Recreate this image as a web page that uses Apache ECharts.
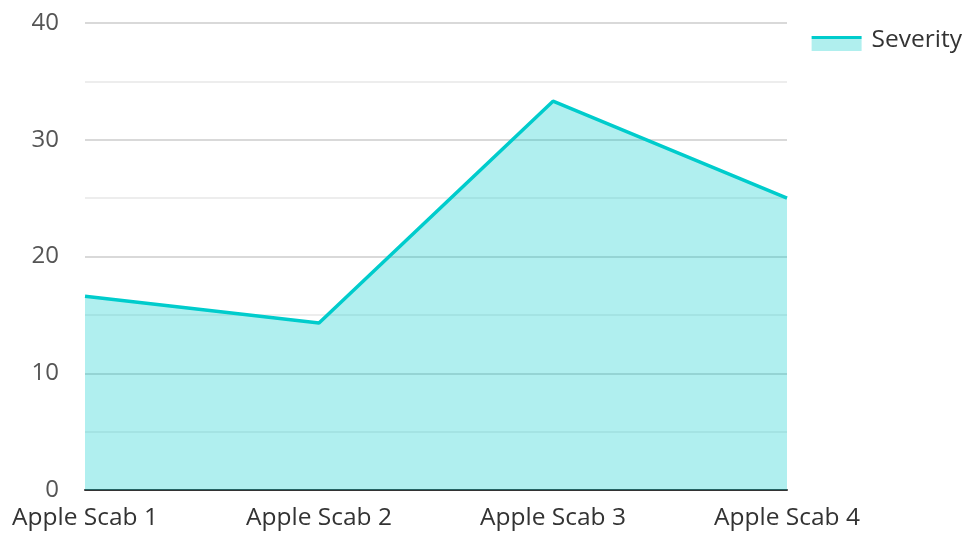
<!DOCTYPE html>
<html>
<head>
<meta charset="utf-8">
<script src="https://cdn.jsdelivr.net/npm/echarts@6/dist/echarts.min.js"></script>
<style>
  html, body { margin: 0; padding: 0; background: #fff; }
  #chart { width: 966px; height: 533px; }
</style>
</head>
<body>
<div id="chart"></div>
<script>
const categories = ['Apple Scab 1', 'Apple Scab 2', 'Apple Scab 3', 'Apple Scab 4']
const severity = [16.6, 14.3, 33.3, 25]

const lineColor = '#00cccc'
const areaColor = 'rgba(0, 204, 204, 0.31)'
const font = '"Open Sans", "Noto Sans", sans-serif'

const chart = echarts.init(document.getElementById('chart'))

chart.setOption({
  animation: false,
  grid: { left: 85, right: 179, top: 23, bottom: 43 },
  legend: {
    data: ['Severity'],
    right: -1,
    top: 23,
    itemWidth: 50,
    itemHeight: 15,
    itemGap: 10,
    icon: 'rect',
    itemStyle: {
      color: new echarts.graphic.LinearGradient(0, 0, 0, 1, [
        { offset: 0, color: lineColor },
        { offset: 0.22, color: lineColor },
        { offset: 0.22, color: '#b0efee' },
        { offset: 1, color: '#b0efee' },
      ]),
    },
    lineStyle: { opacity: 0 },
    formatter: '{a|{name}}',
    textStyle: {
      color: '#333', fontSize: 24.5, fontFamily: font, padding: [0, 0, 0, 5],
      rich: { a: { color: '#333', fontSize: 24.5, fontFamily: font, padding: [0, 0, 6, 0] } },
    },
  },
  xAxis: {
    type: 'category',
    data: categories,
    boundaryGap: false,
    axisLine: { lineStyle: { color: '#333', width: 2 } },
    axisTick: { show: false },
    axisLabel: { color: '#333', fontSize: 24.5, fontFamily: font, margin: 16 },
  },
  yAxis: {
    type: 'value',
    min: 0,
    max: 40,
    interval: 10,
    axisLine: { show: false },
    axisTick: { show: false },
    axisLabel: { color: '#555', fontSize: 24, fontFamily: font, margin: 26 },
    splitLine: { lineStyle: { color: '#cccccc', width: 1.5 } },
    minorTick: { show: false, splitNumber: 2 },
    minorSplitLine: { show: true, lineStyle: { color: '#e8e8e8', width: 1.5 } },
  },
  series: [{
    name: 'Severity',
    type: 'line',
    data: severity,
    symbol: 'none',
    lineStyle: { color: lineColor, width: 3.5 },
    itemStyle: { color: lineColor },
    areaStyle: { color: areaColor, opacity: 1 },
  }],
})
</script>
</body>
</html>
